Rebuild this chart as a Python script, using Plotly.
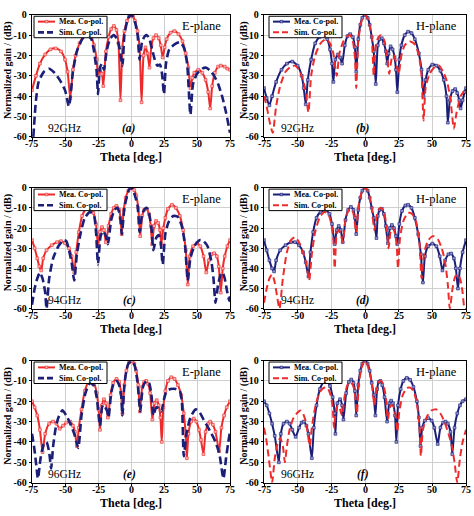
import plotly.graph_objects as go
from plotly.subplots import make_subplots

# ---------------- data: (theta [deg], normalized gain [dB]) ----------------
A_MEA = [(-75,-37),(-72,-30),(-69,-24),(-65,-19.5),(-61,-17),(-57,-16.5),(-53,-18),(-50,-22),(-48,-28),(-46,-41),(-44,-27),(-42,-20),(-39,-14),(-36,-10.5),(-33,-9.5),(-30,-11),(-28,-15),(-26,-22),(-25,-30),(-23.5,-27),(-22,-29),(-21,-35),(-19,-18),(-17,-11),(-15,-7),(-13,-5.5),(-11,-7.5),(-9.5,-14),(-8,-42),(-6.5,-16),(-5,-8),(-3,-3),(-1.5,-0.8),(0,0),(1.5,-0.8),(3,-3),(5,-8),(6.5,-16),(8,-43),(9.5,-20),(11,-16),(12.5,-19),(14,-26),(15.5,-15),(17,-11.5),(19,-10),(21,-11.5),(22.5,-15),(24,-21),(25.5,-16),(27,-12),(30,-8.8),(33,-8),(36,-9.5),(39,-13),(41.5,-19),(43.5,-26),(45,-36),(46.5,-31),(48,-28.5),(51,-27),(54,-28.5),(56.5,-32),(58.5,-38),(60,-46),(61.5,-35),(63.5,-28.5),(66,-25.5),(68,-25),(71,-25.5),(73,-26.5),(75,-27)]
A_SIM = [(-74,-60),(-72,-42),(-70,-33),(-66,-28),(-62,-26.5),(-58,-28.5),(-54,-32),(-50,-37),(-47,-45),(-44,-28),(-41,-18),(-37,-12),(-33,-10),(-30,-12),(-28,-18),(-26,-28),(-25,-39),(-23.5,-26),(-22,-24),(-20.5,-27),(-18.5,-18),(-16,-12),(-13,-10),(-10.5,-12),(-8.5,-17),(-6.5,-25),(-5,-10),(-3,-3.5),(-1.5,-1),(0,0),(1.5,-1),(3,-3.5),(5,-10),(6.5,-22),(8.5,-13),(10.5,-10.5),(12,-10),(14,-12),(16,-17),(18,-22),(20,-25),(22,-24.5),(23.5,-29),(25,-39),(26.5,-24),(29,-17),(33,-14.5),(37,-13.5),(40,-16),(42.5,-24),(45,-49),(47,-34),(50,-29),(54,-26.5),(57,-26),(60,-27.5),(63,-30),(66,-34),(69,-40),(72,-48),(75,-58)]
B_MEA = [(-75,-36),(-73,-41),(-71,-44.5),(-69,-40),(-66,-33),(-62,-27),(-58,-24),(-54,-23),(-50,-25),(-47,-30),(-45.5,-36),(-44,-44),(-42.5,-32),(-40,-22),(-37,-14),(-34,-11),(-31,-10),(-28,-12),(-26,-17),(-24.5,-24),(-23.5,-33),(-22,-22),(-20,-19.5),(-18.5,-21),(-17,-24),(-15,-15),(-13,-10.5),(-11,-9.5),(-9,-11),(-7.5,-16),(-6.5,-28),(-5,-12),(-3.5,-5),(-2,-1.5),(0,0),(2,-1.5),(3.5,-5),(5,-11),(6.5,-18),(8,-34),(9.5,-15),(11,-12),(12.5,-11.5),(14,-14),(15.5,-18),(16.5,-24),(17.5,-19),(19,-15.5),(20.5,-17),(22,-21),(23,-27),(24,-38),(25.5,-22),(27,-15),(29.5,-10),(32,-8.3),(34.5,-9),(37,-12),(40,-19),(42,-27),(43.5,-40),(45,-32),(47,-27),(50,-24.5),(53,-25),(56,-27.5),(58.5,-32),(60.5,-40),(61.5,-53),(63,-42),(65,-37.5),(67,-36.5),(68.5,-38.5),(70,-42),(71,-46),(72.5,-42),(74,-38),(75,-36)]
B_SIM = [(-75,-40),(-73,-45),(-71,-52),(-68.5,-58),(-66,-45),(-63,-35),(-59,-28),(-55,-25.5),(-52,-25),(-49,-27),(-46,-32),(-44,-38),(-42,-48),(-40,-30),(-37,-20),(-33,-14),(-29,-12),(-26,-14),(-23.5,-19),(-21,-30),(-19,-19),(-16,-13),(-13,-10.5),(-11,-10),(-9,-13),(-7.5,-21),(-6.5,-36),(-5,-13),(-3.5,-6),(-2,-2),(0,0),(2,-2),(3.5,-5.5),(5,-11),(6.5,-30),(8,-15),(10,-11),(12,-10),(14,-12),(16,-18),(18,-29),(20,-21),(21.5,-20),(23,-23),(25,-29),(27,-20),(29.5,-15),(33,-13),(37,-14.5),(40,-20),(42,-30),(43.5,-52),(45,-36),(48,-29),(52,-25.5),(55,-25),(58,-28),(61,-33),(63.5,-42),(66,-56),(68,-48),(71,-40),(73,-38),(75,-36)]
C_MEA = [(-75,-26),(-73,-30),(-71,-35),(-69.5,-39),(-68,-41),(-66.5,-35),(-64,-31),(-60,-28.5),(-56,-27),(-53,-26.5),(-50,-27.5),(-47,-30),(-45,-34),(-43,-42),(-41.5,-32),(-39.5,-22),(-37,-14),(-34,-10.5),(-31,-10),(-28.5,-12.5),(-26.5,-18),(-25,-29),(-23.5,-22),(-22,-19.5),(-20.5,-21),(-19,-27),(-17,-19),(-15,-13),(-13,-10),(-11,-9),(-9,-11),(-8,-15),(-7,-23),(-5.5,-11),(-4,-5),(-2,-1.5),(0,-0.3),(1,0),(2.5,-1.2),(4,-4),(5.5,-10),(7,-24),(8.5,-14),(10,-11),(12,-10.5),(13.5,-13),(15,-19),(16,-28),(17.5,-19),(19,-16.5),(20.5,-17.5),(22,-21),(23,-28),(24.5,-20),(26,-15),(28,-10.5),(31,-8.5),(34,-10),(37,-14),(39.5,-21),(41.5,-31),(43,-48),(44.5,-34),(47,-29),(50,-27.5),(52.5,-29),(55,-34),(57,-42),(59,-36),(61,-33),(63,-32.5),(65,-34),(66.5,-39),(68,-52),(69.5,-40),(71,-34),(73,-29),(75,-26)]
C_SIM = [(-75,-58),(-73,-50),(-71,-45),(-69,-42),(-67,-45),(-65,-52),(-64,-60),(-62,-45),(-59,-35),(-55,-29),(-51,-26),(-49,-26.5),(-47,-31),(-45,-37),(-43,-46),(-41,-33),(-38,-22),(-35,-15),(-31,-12),(-28,-14),(-26.5,-22),(-25,-38),(-23,-24),(-21,-21.5),(-19,-24),(-17.5,-28),(-15,-16),(-12.5,-11),(-10.5,-10),(-8.5,-13),(-7,-23),(-5,-10),(-3,-4),(-1.5,-1),(0,0),(1.5,-1),(3,-4),(5,-9),(6.5,-22),(8.5,-13),(10.5,-10.5),(12,-10),(13.5,-12),(15.5,-20),(17,-31),(19,-25),(21,-23.5),(22.5,-27),(24,-38),(26,-23),(28.5,-17),(32,-14),(35.5,-14.5),(38.5,-19),(41,-29),(43,-46),(45,-35),(48,-29),(52,-26),(55,-26.5),(58,-29),(61,-37),(62.5,-45),(64,-57),(66,-48),(68,-43),(69.5,-42),(71,-45),(73,-52),(74.5,-56),(75,-52)]
D_MEA = [(-75,-26),(-73,-31),(-71,-36),(-69,-40),(-67.5,-41.5),(-66,-36),(-63,-31),(-59,-28.5),(-55,-27),(-52,-27),(-49,-28.5),(-46,-32),(-44,-37),(-42,-44),(-40.5,-32),(-38.5,-22),(-36,-15),(-33,-12),(-29,-11),(-26.5,-13),(-24.5,-18),(-22.5,-28),(-21,-21),(-19.5,-19),(-18,-21),(-16.5,-27),(-14.5,-16),(-12.5,-11),(-10.5,-9.5),(-8.5,-11),(-7.5,-15),(-6.5,-23),(-5,-11),(-3.5,-5),(-2,-1.5),(0,0),(2,-1.5),(3.5,-5),(5,-10),(6.5,-15),(8.5,-25),(9.5,-14),(11,-11),(12.5,-10.5),(14,-13),(15.5,-19),(17,-27.5),(18.5,-20),(20,-18.5),(21.5,-20),(23,-24),(24,-28),(25.5,-18),(27.5,-11.5),(30,-8.8),(32,-8.5),(34.5,-10),(37,-15),(39.5,-23),(41.5,-33),(43,-47),(44.5,-34),(47,-29),(50,-27.7),(53,-29),(55.5,-34),(57.5,-41),(59.5,-36),(62,-33),(64,-32.6),(66,-35),(67.5,-40),(69,-50),(70.5,-40),(72.5,-32),(75,-26)]
D_SIM = [(-75,-57),(-73,-50),(-71,-45),(-69,-43),(-67,-47),(-65,-55),(-63.5,-60),(-61,-45),(-58,-32),(-55,-26),(-52,-24.5),(-49,-27),(-46,-32),(-43.5,-38),(-41.5,-46),(-39.5,-33),(-37,-22),(-33.5,-14.5),(-30,-12),(-27,-13.5),(-25,-18),(-23.5,-26),(-22.5,-40),(-21,-23),(-19.5,-21),(-18,-23),(-16.5,-27),(-14.5,-16),(-12,-11),(-10,-10.5),(-8.5,-13),(-6.5,-22),(-5,-10),(-3.5,-5),(-2,-1.5),(0,0),(2,-1.5),(3.5,-5),(5,-10),(7,-21),(9,-13),(10.5,-10.5),(12,-10),(14,-12),(16,-19),(17.5,-30),(19,-22),(20.5,-20),(22,-22),(23.5,-28),(24.5,-40),(26,-25),(28.5,-16.5),(32,-12.5),(35,-13),(38,-17),(40.5,-28),(42,-45),(44,-32),(47,-26),(50.5,-24),(54,-25.5),(57,-30),(59.5,-37),(61.5,-48),(63,-60),(65,-50),(67,-44),(69,-43),(71,-46),(72.5,-52),(74,-60),(75,-60)]
E_MEA = [(-75,-20),(-73,-23),(-71,-27),(-69,-34),(-67,-45),(-65,-36),(-62,-31),(-59,-30),(-56.5,-31),(-54,-33.5),(-51.5,-32),(-49,-30.5),(-46,-30),(-44,-32),(-42.5,-35),(-41,-42),(-39.5,-33),(-37.5,-24),(-35,-15),(-32.5,-11),(-30,-10),(-28,-11),(-26,-16),(-24.5,-24),(-23.5,-34),(-22,-22),(-20.5,-19),(-19,-21),(-17.5,-28),(-15.5,-17),(-13.5,-11),(-11,-9),(-9,-10.5),(-7.5,-16),(-6.5,-26),(-5,-12),(-3.5,-5),(-1.5,-1),(0,-0.2),(1,0),(2.5,-1.5),(4,-5),(5.5,-12),(6.8,-25),(8.5,-13),(10,-10.5),(11.5,-10),(13,-11.5),(14.5,-16),(16.2,-29),(17.8,-21),(19.5,-19.5),(21,-22),(22.3,-28),(23.3,-40),(24.5,-23),(26,-15),(28,-10),(30.5,-8.2),(33,-9),(35.5,-12),(38,-17),(40,-26),(41.5,-37),(42.3,-48),(43.5,-36),(45.5,-30),(47.5,-28.5),(49.5,-30),(51.5,-34),(53,-39),(54.9,-46),(56.5,-35),(58.5,-31),(60,-30),(62,-31.5),(64,-35),(66.8,-44.5),(68.5,-33),(70.5,-27),(72.5,-23),(75,-20)]
E_SIM = [(-75,-36),(-73.5,-42),(-72,-50),(-70.5,-58),(-68.5,-48),(-66,-41),(-64,-40),(-62,-45),(-60.5,-53),(-59,-42),(-57,-33),(-55,-28),(-52,-24.5),(-49,-27),(-46,-31),(-43,-36),(-40,-43),(-37.5,-27),(-34.5,-16),(-31,-11),(-28,-12.5),(-26,-18),(-23.5,-32),(-21.5,-22),(-20,-22.5),(-18,-25),(-17,-28),(-15,-16),(-13,-11),(-11,-10),(-9,-12),(-7.5,-17),(-6.5,-27),(-5,-12),(-3.5,-5),(-2,-1.5),(0,-0.5),(1.5,-0.5),(3,-3),(5,-11),(7,-25),(9,-13),(11,-10.5),(12.5,-10),(14,-11.5),(15.5,-17),(17,-27),(19,-23),(21,-23.5),(23,-25),(25,-19),(27,-15),(30,-14),(34,-14),(37,-15),(38.5,-20),(40,-47),(42,-36),(45,-28),(49,-24),(52,-25.5),(55,-29),(58,-32.5),(61,-36),(64,-40),(67,-46),(70,-58),(72,-48),(73.5,-41),(75,-35)]
F_MEA = [(-75,-20),(-73,-22),(-71,-26),(-69,-31),(-67,-37),(-64,-50),(-62.5,-36),(-60.5,-31),(-58,-30),(-56,-31),(-54,-34),(-51.5,-37.5),(-49,-33),(-47,-30.5),(-45.5,-30),(-43.5,-32),(-42,-36),(-39.5,-48),(-38,-33),(-36,-22),(-33.5,-14),(-30.5,-10.5),(-28,-10.2),(-26,-12.5),(-24,-18),(-22.5,-26),(-22,-36),(-20.5,-21),(-18.5,-19),(-17,-22),(-16,-29),(-14,-16),(-12,-10.5),(-10.2,-9.3),(-8.5,-11),(-7.5,-15),(-6.5,-27),(-5,-12),(-3.5,-5),(-2,-1.5),(0,0),(2,-1.5),(3.5,-5),(5,-11),(6.5,-17),(7.7,-27),(9,-14),(10.2,-10.5),(11.4,-10),(12.8,-12),(14.5,-18),(16.4,-30),(18,-21),(19.4,-19.7),(20.8,-21),(22.3,-27),(23.3,-40),(24.5,-22),(26.5,-14),(28.5,-10),(31,-8.5),(33.5,-9.5),(36,-13),(38.5,-20),(40,-28),(41.2,-42),(42.5,-33),(44.5,-29.5),(47,-28.3),(49.5,-29.5),(51.5,-33),(54,-41),(56,-33),(58,-30.5),(59.8,-30),(61.5,-31),(63.5,-35),(64.8,-46),(66.5,-33),(68.5,-26),(70.5,-22),(72.5,-20),(75,-19)]
F_SIM = [(-75,-33),(-73.5,-38),(-72,-45),(-70.5,-53),(-69,-60),(-67,-48),(-65,-41),(-63,-38),(-61,-42),(-59.5,-50),(-58,-42),(-56,-34),(-53,-28),(-50,-25.5),(-48,-24.5),(-46,-26),(-44,-30),(-42.5,-36),(-41,-42),(-39.5,-33),(-37,-23),(-34,-16),(-31,-13.5),(-28,-13.3),(-25.5,-17),(-24,-23),(-23,-33),(-21.5,-24),(-20,-22),(-18.5,-24),(-17,-27),(-15,-17),(-13,-12),(-10.5,-10.5),(-8.5,-13),(-7,-19),(-6,-26),(-4.5,-11),(-3,-5),(-1.5,-1.5),(0,0),(1.5,-1.5),(3,-5),(5,-11),(7,-22),(8.5,-14),(10.5,-10.5),(12,-10),(13.5,-11.5),(15.5,-18),(17,-29),(18.5,-23),(20,-22),(21.5,-23),(23,-28),(24,-35),(25.5,-25),(28,-17),(31,-13.5),(33.5,-13.3),(36,-15),(38.5,-21),(40.5,-33),(41.5,-47),(43,-34),(46,-27.5),(49.5,-24.5),(53,-24),(56,-26),(59,-30),(62,-36),(64.5,-42),(66.5,-50),(68.5,-60),(70.5,-48),(72.5,-40),(75,-34)]

X_TICKS = [-75, -50, -25, 0, 25, 50, 75]
Y_TICKS = [0, -10, -20, -30, -40, -50, -60]
LEGEND_LABELS = ["Mea. Co-pol.", "Sim. Co-pol."]
X_TITLE = "Theta [deg.]"
Y_TITLE = "Normalized gain / (dB)"
PANELS = [
    ("(a)", "E-plane", "92GHz", A_MEA, A_SIM),
    ("(b)", "H-plane", "92GHz", B_MEA, B_SIM),
    ("(c)", "E-plane", "94GHz", C_MEA, C_SIM),
    ("(d)", "H-plane", "94GHz", D_MEA, D_SIM),
    ("(e)", "E-plane", "96GHz", E_MEA, E_SIM),
    ("(f)", "H-plane", "96GHz", F_MEA, F_SIM),
]

# ---------------- styling / layout ----------------
W, H = 474, 516
RED = "#ee2b2b"
NAVY = "#1b1f78"
FONT = "Liberation Serif"
XD = [(32, 230), (264, 466)]
YD = [(9, 134), (186, 310), (363, 488)]
YTITLE_X = [8, 244]

fig = make_subplots(rows=3, cols=2)

for i, (tag, plane, freq, mea, sim) in enumerate(PANELS):
    r, c = i // 2 + 1, i % 2 + 1
    if plane == "E-plane":
        mcol, scol, swidth, mfill, sdash = RED, NAVY, 2.6, "#ffb4b4", "8px,4px"
    else:
        mcol, scol, swidth, mfill, sdash = NAVY, RED, 2.0, "#8f93cc", "7px,4px"
    fig.add_trace(go.Scatter(
        x=[p[0] for p in mea], y=[p[1] for p in mea], mode="lines+markers",
        name=LEGEND_LABELS[0], showlegend=False,
        line=dict(color=mcol, width=2.0, shape="spline", smoothing=0.6),
        marker=dict(symbol="square", size=2.8, color=mfill, line=dict(color=mcol, width=0.6)),
    ), row=r, col=c)
    fig.add_trace(go.Scatter(
        x=[p[0] for p in sim], y=[p[1] for p in sim], mode="lines",
        name=LEGEND_LABELS[1], showlegend=False,
        line=dict(color=scol, width=swidth, dash=sdash, shape="spline", smoothing=0.6),
    ), row=r, col=c)

    x0, x1 = XD[c - 1]
    y0, y1 = YD[r - 1]
    pw, ph = x1 - x0, y1 - y0
    sfx = "" if i == 0 else str(i + 1)
    fig.update_layout(**{
        f"xaxis{sfx}": dict(domain=[x0 / W, x1 / W]),
        f"yaxis{sfx}": dict(domain=[1 - y1 / H, 1 - y0 / H]),
    })
    xr = f"x{sfx} domain"
    yr = f"y{sfx} domain"
    fx = lambda px: px / pw
    fy = lambda py: 1 - py / ph

    # manual legend box
    lx = 2 if c == 1 else 5
    fig.add_shape(type="rect", xref=xr, yref=yr, x0=fx(lx), x1=fx(lx + 73), y0=fy(1.5), y1=fy(23.5),
                  fillcolor="white", line=dict(color="black", width=1), layer="above")
    for k, (lab, col, wid) in enumerate([(LEGEND_LABELS[0], mcol, 2.0),
                                         (LEGEND_LABELS[1], scol, swidth)]):
        yy = 7 + 11 * k
        fig.add_shape(type="line", xref=xr, yref=yr, x0=fx(lx + 4), x1=fx(lx + 21), y0=fy(yy), y1=fy(yy),
                      line=dict(color=col, width=wid, dash="solid" if k == 0 else "6px,3px"), layer="above")
        if k == 0:
            fig.add_shape(type="rect", xref=xr, yref=yr, x0=fx(lx + 11.2), x1=fx(lx + 13.8),
                          y0=fy(yy - 1.3), y1=fy(yy + 1.3), fillcolor=mfill,
                          line=dict(color=mcol, width=0.6), layer="above")
        fig.add_annotation(text=f"<b>{lab}</b>", xref=xr, yref=yr, x=fx(lx + 23), y=fy(yy),
                           xanchor="left", yanchor="middle", showarrow=False,
                           font=dict(family=FONT, size=8, color="black"))

    fig.add_annotation(text=plane, xref=xr, yref=yr, x=0.965, y=0.905, xanchor="right",
                       yanchor="middle", showarrow=False,
                       font=dict(family=FONT, size=12.5, color="black"))
    fig.add_annotation(text=freq, xref=xr, yref=yr, x=0.07 if c == 1 else 0.075,
                       y=0.07, xanchor="left", yanchor="middle", showarrow=False,
                       font=dict(family=FONT, size=11.5, color="black"))
    fig.add_annotation(text=f"<b><i>{tag}</i></b>", xref=xr, yref=yr, x=0.49, y=0.07,
                       xanchor="center", yanchor="middle", showarrow=False,
                       font=dict(family=FONT, size=11.5, color="black"))
    # x tick labels placed on the axis scale, close to the axis like the reference
    for v in X_TICKS:
        fig.add_annotation(text=f"<b>{v}</b>", xref=f"x{sfx}", yref="paper", x=v,
                           y=1 - (y1 + 7) / H, xanchor="center", yanchor="middle",
                           showarrow=False, font=dict(family=FONT, size=10, color="black"))
    # axis titles
    fig.add_annotation(text=f"<b>{X_TITLE}</b>", xref=xr, yref="paper", x=0.5,
                       y=1 - (y1 + 20.5) / H, xanchor="center", yanchor="middle", showarrow=False,
                       font=dict(family=FONT, size=12, color="black"))
    fig.add_annotation(text=f"<b>{Y_TITLE}</b>", xref="paper", yref="paper",
                       x=YTITLE_X[c - 1] / W, y=1 - ((y0 + y1) / 2 - 6) / H, textangle=-90,
                       xanchor="center", yanchor="middle", showarrow=False,
                       font=dict(family=FONT, size=10, color="black"))

fig.update_xaxes(range=[-75, 75], tickvals=X_TICKS, showticklabels=False,
                 showgrid=True, gridcolor="#cfcfcf", gridwidth=1, zeroline=False,
                 showline=True, linecolor="black", linewidth=1.3, mirror=True,
                 ticks="outside", ticklen=2, tickcolor="black")
fig.update_yaxes(range=[-60, 0], tickvals=Y_TICKS, ticktext=[str(v) for v in Y_TICKS],
                 showgrid=True, gridcolor="#cfcfcf", gridwidth=1, zeroline=False,
                 showline=True, linecolor="black", linewidth=1.3, mirror=True,
                 ticks="outside", ticklen=2, tickcolor="black",
                 tickfont=dict(family=FONT, size=10, color="black", weight="bold"))

fig.update_layout(width=W, height=H, margin=dict(l=0, r=0, t=0, b=0),
                  paper_bgcolor="white", plot_bgcolor="white", showlegend=False)

fig.write_html("out.html")
